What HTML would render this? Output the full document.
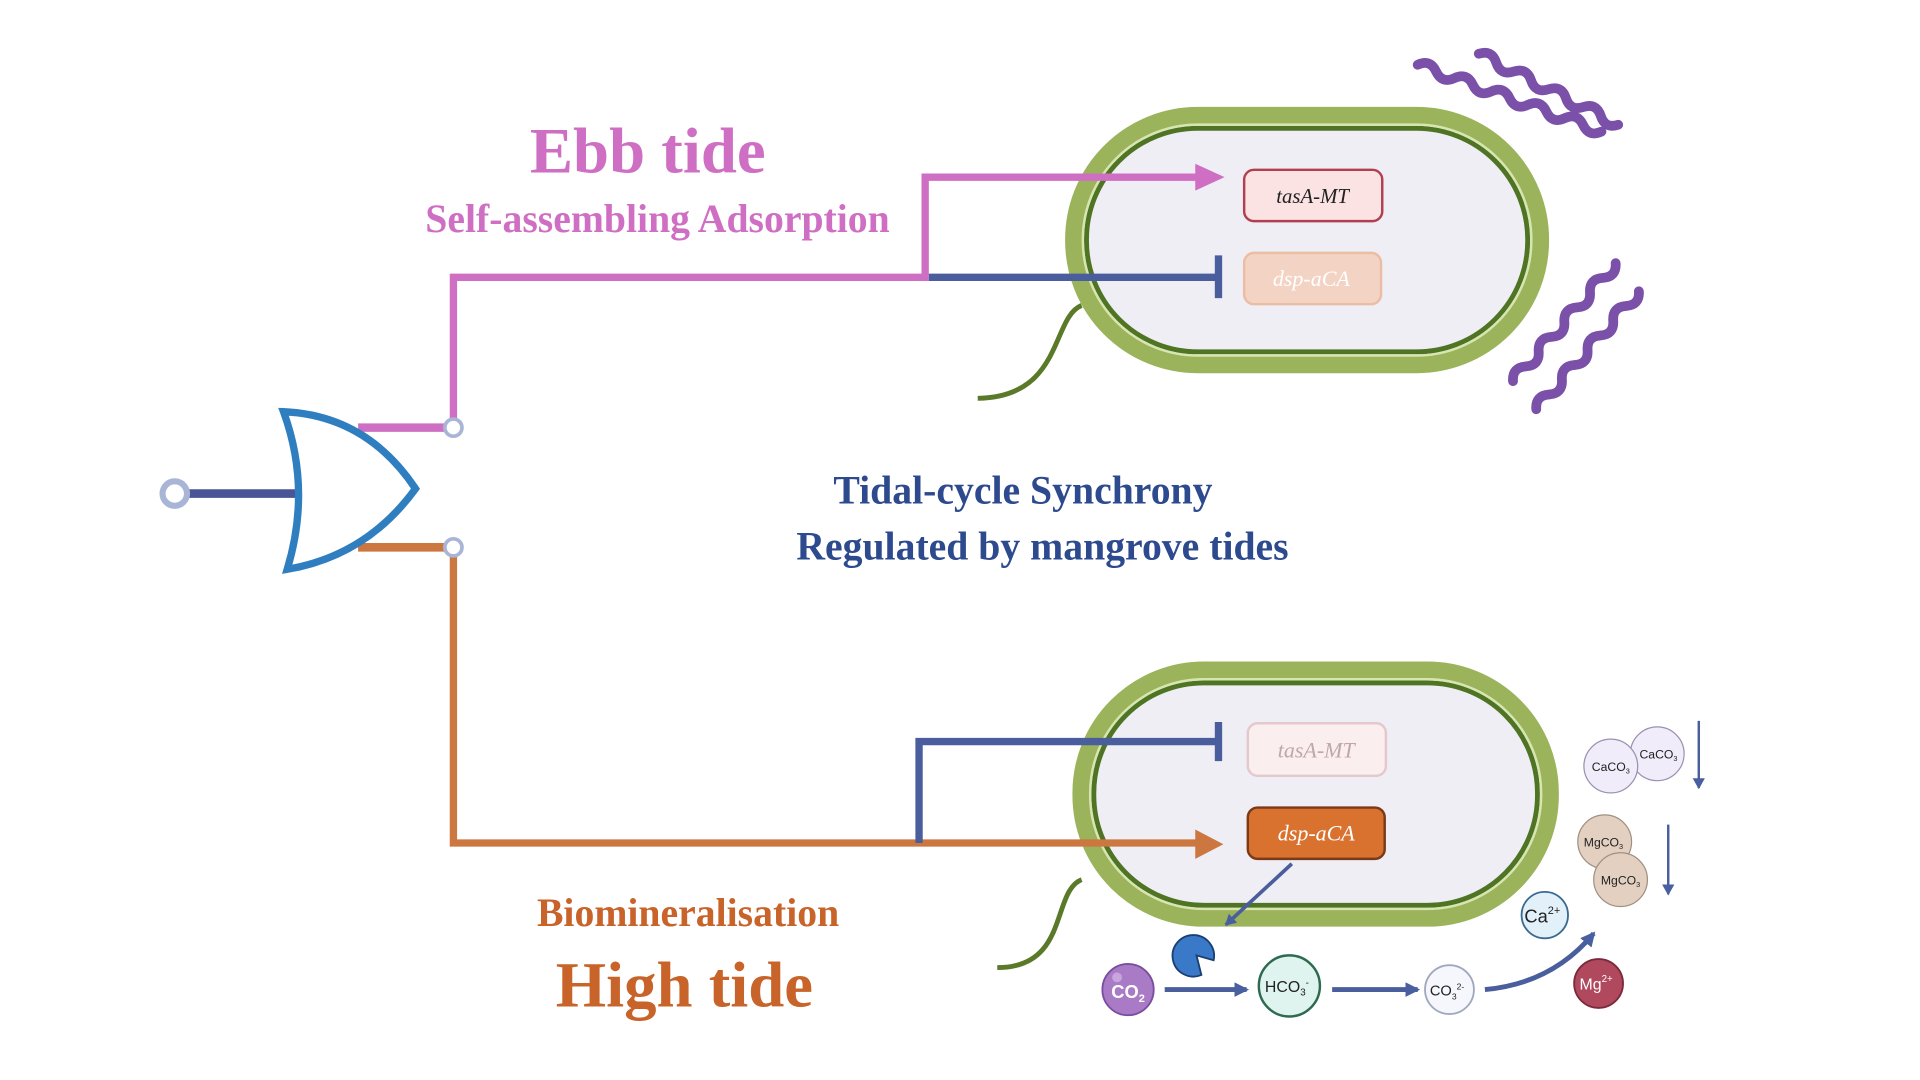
<!DOCTYPE html>
<html><head><meta charset="utf-8"><style>
html,body{margin:0;padding:0;background:#fff;}
svg{display:block;}
text{font-family:"Liberation Serif",serif;font-weight:bold;}
</style></head><body>
<svg width="1920" height="1080" viewBox="0 0 1571 884" preserveAspectRatio="none" xmlns="http://www.w3.org/2000/svg">
<defs>
<marker id="ab" markerWidth="14" markerHeight="14" refX="10" refY="6" orient="auto" markerUnits="userSpaceOnUse"><path d="M0,0 L12,6 L0,12 Z" fill="#4a5fa0"/></marker>
<marker id="as" markerWidth="10" markerHeight="10" refX="8" refY="5" orient="auto" markerUnits="userSpaceOnUse"><path d="M0,0 L9,5 L0,10 Z" fill="#4a5fa0"/></marker>
</defs>
<g fill="none" stroke="#7a50a8" stroke-width="8" stroke-linecap="round">
<path transform="translate(1160,53) rotate(20)" d="M0,0 q8,-8 16,0 t16,0 t16,0 t16,0 t16,0 t16,0 t16,0 t16,0 t16,0 t16,0"/>
<path transform="translate(1210,44) rotate(27)" d="M0,0 q8,-8 16,0 t16,0 t16,0 t16,0 t16,0 t16,0 t16,0 t16,0"/>
<path transform="translate(1238,312) rotate(-49)" d="M0,0 q8,-8 16,0 t16,0 t16,0 t16,0 t16,0 t16,0 t16,0 t16,0"/>
<path transform="translate(1257,335) rotate(-49)" d="M0,0 q8,-8 16,0 t16,0 t16,0 t16,0 t16,0 t16,0 t16,0 t16,0"/>
</g>
<path d="M885,250 C860,260 870,325 800,326" fill="none" stroke="#5a7a2a" stroke-width="4"/>
<rect x="879" y="95" width="381" height="203" rx="101" fill="#f0eef5" stroke="#9bb35a" stroke-width="15"/>
<rect x="889" y="105" width="361" height="183" rx="91" fill="none" stroke="#4f7424" stroke-width="4"/>
<rect x="886" y="102" width="367" height="189" rx="94" fill="none" stroke="#d7e6b0" stroke-width="2"/>
<path d="M885,720 C860,730 875,792 816,792" fill="none" stroke="#5a7a2a" stroke-width="4"/>
<rect x="885" y="549" width="383" height="202" rx="100" fill="#f0eef5" stroke="#9bb35a" stroke-width="15"/>
<rect x="895" y="559" width="363" height="182" rx="90" fill="none" stroke="#4f7424" stroke-width="4"/>
<rect x="892" y="556" width="369" height="188" rx="93" fill="none" stroke="#d7e6b0" stroke-width="2"/>
<line x1="143" y1="404" x2="246" y2="404" stroke="#4a5595" stroke-width="7"/>
<circle cx="143" cy="404" r="10" fill="#fff" stroke="#a9b5d6" stroke-width="5"/>
<line x1="293" y1="350" x2="371" y2="350" stroke="#cf6fc4" stroke-width="7"/>
<line x1="293" y1="448" x2="371" y2="448" stroke="#cc7640" stroke-width="7"/>
<path d="M232,337 Q300,340 340,400 Q300,455 235,466 Q255,400 232,337 Z" fill="#fff" stroke="#2f7fc0" stroke-width="6"/>
<path d="M371,350 V227 H757 V145 H985" fill="none" stroke="#cf6fc4" stroke-width="6"/>
<path d="M978,134 L1002,145 L978,156 Z" fill="#cf6fc4"/>
<path d="M760,227 H997" fill="none" stroke="#4a5e9e" stroke-width="6"/>
<line x1="997" y1="209" x2="997" y2="244" stroke="#4a5e9e" stroke-width="6"/>
<path d="M371,448 V690 H985" fill="none" stroke="#cc7640" stroke-width="6"/>
<path d="M978,679 L1001,691 L978,703 Z" fill="#cc7640"/>
<path d="M752,690 V607 H997" fill="none" stroke="#4a5e9e" stroke-width="6"/>
<line x1="997" y1="591" x2="997" y2="623" stroke="#4a5e9e" stroke-width="6"/>
<circle cx="371" cy="350" r="7" fill="#fff" stroke="#a9b5d6" stroke-width="3"/>
<circle cx="371" cy="448" r="7" fill="#fff" stroke="#a9b5d6" stroke-width="3"/>
<rect x="1018" y="139" width="113" height="42" rx="8" fill="#fbe3e4" stroke="#b04050" stroke-width="2"/>
<text x="1074" y="166" font-size="17" font-style="italic" text-anchor="middle" fill="#222" style="font-weight:normal">tasA-MT</text>
<rect x="1018" y="207" width="112" height="42" rx="8" fill="#f3d3c3" stroke="#ebbda5" stroke-width="2"/>
<text x="1073" y="234" font-size="18" font-style="italic" text-anchor="middle" fill="#fff" style="font-weight:normal">dsp-aCA</text>
<rect x="1021" y="592" width="113" height="43" rx="8" fill="#faeeee" stroke="#e4c8cc" stroke-width="2"/>
<text x="1077" y="620" font-size="18" font-style="italic" text-anchor="middle" fill="#bfa7ab" style="font-weight:normal">tasA-MT</text>
<rect x="1021" y="661" width="112" height="42" rx="8" fill="#d9722f" stroke="#7a3a18" stroke-width="2"/>
<text x="1077" y="688" font-size="18" font-style="italic" text-anchor="middle" fill="#fff" style="font-weight:normal">dsp-aCA</text>
<text x="530" y="141" font-size="53" text-anchor="middle" fill="#cf6fc4">Ebb tide</text>
<text x="538" y="190" font-size="32.5" text-anchor="middle" fill="#cf6fc4">Self-assembling Adsorption</text>
<text x="837" y="412" font-size="32.5" text-anchor="middle" fill="#2d4a8f">Tidal-cycle Synchrony</text>
<text x="853" y="458" font-size="32.5" text-anchor="middle" fill="#2d4a8f">Regulated by mangrove tides</text>
<text x="563" y="758" font-size="32.5" text-anchor="middle" fill="#c8632a">Biomineralisation</text>
<text x="560" y="824" font-size="53" text-anchor="middle" fill="#c8632a">High tide</text>
<line x1="1057" y1="707" x2="1003" y2="757" stroke="#4a5e9e" stroke-width="3" marker-end="url(#as)"/>
<path d="M983,798 A17,17 0 1 1 993,786 L979,782 Z" fill="#3a78c8" stroke="#1a3f70" stroke-width="1.5"/>
<circle cx="923" cy="810" r="21" fill="#a97bc6" stroke="#7a4e9e" stroke-width="1.5"/>
<circle cx="914" cy="800" r="4" fill="#c9a5dd"/>
<text x="923" y="817" font-size="15" text-anchor="middle" fill="#fff" style="font-family:'Liberation Sans',sans-serif">CO<tspan font-size="9" dy="3">2</tspan></text>
<line x1="953" y1="810" x2="1020" y2="810" stroke="#4a5e9e" stroke-width="4" marker-end="url(#ab)"/>
<circle cx="1055" cy="807" r="25" fill="#dff4ee" stroke="#2d6a50" stroke-width="2"/>
<text x="1053" y="812" font-size="13" text-anchor="middle" fill="#222" style="font-family:'Liberation Sans',sans-serif;font-weight:normal">HCO<tspan font-size="8" dy="3">3</tspan><tspan font-size="8" dy="-8">-</tspan></text>
<line x1="1090" y1="810" x2="1160" y2="810" stroke="#4a5e9e" stroke-width="4" marker-end="url(#ab)"/>
<circle cx="1186" cy="810" r="20" fill="#f6f7fc" stroke="#a0a8c0" stroke-width="1.5"/>
<text x="1184" y="815" font-size="12" text-anchor="middle" fill="#222" style="font-family:'Liberation Sans',sans-serif;font-weight:normal">CO<tspan font-size="7" dy="3">3</tspan><tspan font-size="7" dy="-8">2-</tspan></text>
<path d="M1215,810 Q1270,805 1304,764" fill="none" stroke="#4a5e9e" stroke-width="4" marker-end="url(#ab)"/>
<circle cx="1264" cy="749" r="19" fill="#e2f0fa" stroke="#3a6a90" stroke-width="1.5"/>
<text x="1262" y="755" font-size="15" text-anchor="middle" fill="#222" style="font-family:'Liberation Sans',sans-serif;font-weight:normal">Ca<tspan font-size="9" dy="-7">2+</tspan></text>
<circle cx="1308" cy="805" r="20" fill="#b0485e" stroke="#7a2a3a" stroke-width="1.5"/>
<text x="1306" y="810" font-size="13" text-anchor="middle" fill="#fff" style="font-family:'Liberation Sans',sans-serif;font-weight:normal">Mg<tspan font-size="8" dy="-6">2+</tspan></text>
<circle cx="1356" cy="617" r="22" fill="#f1ecf9" stroke="#9a90b0" stroke-width="1"/>
<circle cx="1318" cy="627" r="22" fill="#f1ecf9" stroke="#9a90b0" stroke-width="1"/>
<text x="1318" y="631" font-size="10" text-anchor="middle" fill="#222" style="font-family:'Liberation Sans',sans-serif;font-weight:normal">CaCO<tspan font-size="6" dy="2">3</tspan></text>
<text x="1357" y="621" font-size="10" text-anchor="middle" fill="#222" style="font-family:'Liberation Sans',sans-serif;font-weight:normal">CaCO<tspan font-size="6" dy="2">3</tspan></text>
<line x1="1390" y1="590" x2="1390" y2="645" stroke="#4a5e9e" stroke-width="2" marker-end="url(#as)"/>
<circle cx="1313" cy="689" r="22" fill="#e4d0c0" stroke="#a09080" stroke-width="1"/>
<circle cx="1326" cy="720" r="22" fill="#e4d0c0" stroke="#a09080" stroke-width="1"/>
<text x="1312" y="693" font-size="10" text-anchor="middle" fill="#222" style="font-family:'Liberation Sans',sans-serif;font-weight:normal">MgCO<tspan font-size="6" dy="2">3</tspan></text>
<text x="1326" y="724" font-size="10" text-anchor="middle" fill="#222" style="font-family:'Liberation Sans',sans-serif;font-weight:normal">MgCO<tspan font-size="6" dy="2">3</tspan></text>
<line x1="1365" y1="675" x2="1365" y2="732" stroke="#4a5e9e" stroke-width="2" marker-end="url(#as)"/>
</svg>
</body></html>
